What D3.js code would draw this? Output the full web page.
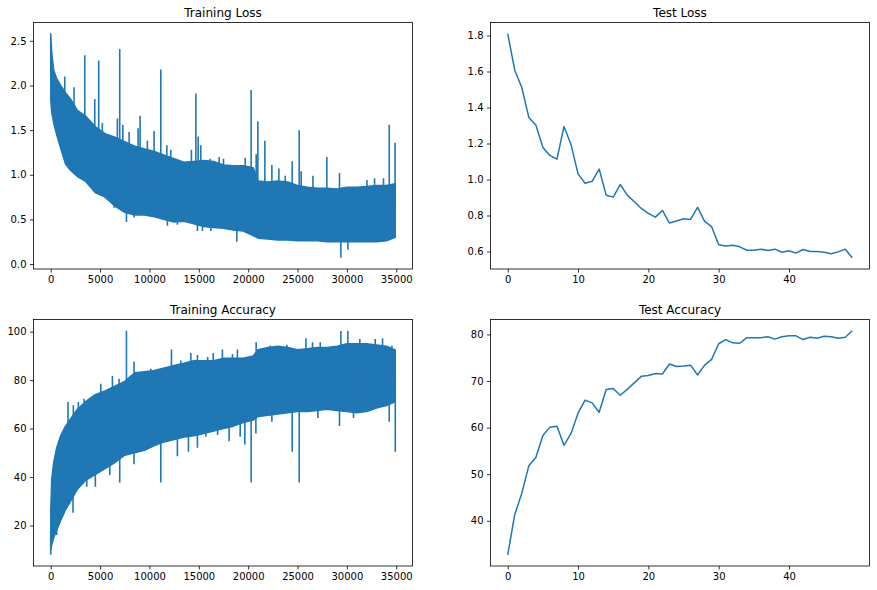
<!DOCTYPE html>
<html>
<head>
<meta charset="utf-8">
<script src="https://cdn.jsdelivr.net/npm/d3@7"></script>
<style>
  body { margin: 0; background: #fff; }
  svg { display: block; }
  text { font-family: "DejaVu Sans", sans-serif; fill: #000; }
</style>
</head>
<body>
<svg id="fig" width="877" height="590"></svg>
<script>
// epochs for the test curves
var epochs = d3.range(0, 50);

var testLoss = [1.81, 1.607, 1.511, 1.345, 1.303, 1.178, 1.134, 1.113, 1.294, 1.194,
    1.031, 0.979, 0.990, 1.058, 0.913, 0.902, 0.972, 0.913, 0.876, 0.839,
    0.812, 0.791, 0.828, 0.758, 0.769, 0.782, 0.778, 0.845, 0.767, 0.738,
    0.637, 0.631, 0.635, 0.626, 0.607, 0.607, 0.613, 0.605, 0.613, 0.596,
    0.604, 0.591, 0.611, 0.600, 0.600, 0.596, 0.587, 0.598, 0.613, 0.565];

var testAcc = [32.7, 41.35, 45.9, 51.8, 53.6, 58.3, 60.1, 60.3, 56.2, 58.75,
    63.1, 65.9, 65.3, 63.3, 68.2, 68.4, 66.95, 68.2, 69.6, 71.0,
    71.2, 71.6, 71.5, 73.65, 73.1, 73.2, 73.4, 71.3, 73.4, 74.65,
    78.0, 78.9, 78.2, 78.1, 79.3, 79.3, 79.3, 79.5, 79.0, 79.5,
    79.7, 79.7, 78.9, 79.4, 79.2, 79.6, 79.5, 79.2, 79.4, 80.8];

// training curves: the noisy band is kept as its lower/upper edge read at these steps
var steps = [0, 100, 300, 600, 1000, 1500, 2000, 2700, 3500, 4500, 5500, 6500, 7500, 8500,
    9500, 10500, 11500, 12500, 13500, 14500, 15500, 16500, 17500, 18500, 19500, 20500,
    21000, 22000, 23000, 24000, 25000, 26000, 27000, 28000, 29000, 30000, 31000, 32000,
    33000, 34000, 34900];

var lossUpper = [2.58, 2.37, 2.17, 2.08, 2.0, 1.92, 1.85, 1.72, 1.66, 1.54, 1.46, 1.42, 1.37, 1.32,
    1.29, 1.26, 1.22, 1.18, 1.14, 1.15, 1.16, 1.15, 1.11, 1.10, 1.10, 1.08,
    0.93, 0.92, 0.93, 0.92, 0.88, 0.86, 0.85, 0.85, 0.84, 0.86, 0.86, 0.87,
    0.88, 0.88, 0.90];
var lossLower = [1.84, 1.70, 1.58, 1.45, 1.30, 1.12, 1.05, 0.98, 0.93, 0.80, 0.75, 0.65, 0.58, 0.55,
    0.55, 0.53, 0.50, 0.47, 0.48, 0.45, 0.42, 0.41, 0.40, 0.38, 0.37, 0.32,
    0.29, 0.28, 0.27, 0.27, 0.26, 0.26, 0.26, 0.25, 0.25, 0.25, 0.25, 0.25,
    0.25, 0.26, 0.30];
// isolated spikes off the band [step, value]
var lossSpikes = [[1420, 2.10], [2360, 1.98], [3450, 2.34], [4460, 1.85], [4860, 2.28], [5230, 1.58],
    [6750, 1.63], [6990, 2.41], [7300, 1.56], [7940, 1.48], [8440, 1.33], [8850, 1.52], [9050, 1.66],
    [9790, 1.38], [10470, 1.49], [11150, 2.18], [11760, 1.33], [12160, 1.28], [14250, 1.28],
    [14700, 1.91], [14930, 1.43], [15200, 1.33], [16150, 1.18], [17060, 1.20], [17500, 1.18],
    [19700, 1.19], [20300, 1.95], [20810, 1.23], [20980, 1.60], [21690, 1.38], [22400, 1.11],
    [23110, 1.07], [23750, 0.99], [24460, 1.15], [25170, 1.50], [25370, 1.04], [26560, 0.99],
    [27970, 1.20], [29250, 1.02], [32030, 0.94], [32800, 0.96], [33710, 0.96], [34290, 1.56],
    [34880, 1.36],
    [6420, 0.63], [7670, 0.47], [8440, 0.52], [11820, 0.43], [12830, 0.44], [14860, 0.37],
    [15370, 0.37], [16220, 0.37], [18850, 0.25], [29390, 0.07], [30100, 0.16]];

var accUpper = [26, 39, 46, 52, 57, 61, 64, 68, 71, 74, 75.5, 77.5, 79.5, 83,
    83.5, 84, 85, 86, 87, 88, 88, 88, 89, 89, 89, 90,
    92.5, 93.5, 94, 93.5, 92.5, 93, 93.5, 93.5, 94, 95, 95, 95,
    94.5, 94, 92.5];
var accLower = [10, 12, 15, 18, 22, 26.5, 30, 35, 38.5, 41, 43.5, 46, 49, 50,
    51, 53, 54.5, 55.5, 56.5, 57, 58, 59, 60, 61, 62.5, 63.5,
    65, 65.5, 66, 66.5, 67, 67, 67.5, 68, 67.5, 67, 66.5, 67,
    68.5, 69.5, 71];
var accSpikes = [[1750, 71.0], [2290, 69.6], [2800, 71.0], [3380, 72.3], [5070, 78.5], [6250, 81.7],
    [6920, 80.6], [7670, 100.4], [8440, 87.7], [10140, 84.7], [12230, 92.6], [13180, 88.1],
    [14190, 91.2], [14860, 90.4], [15900, 89.5], [16460, 91.2], [17390, 92.6], [18410, 90.8],
    [18910, 92.6], [20810, 95.6], [22230, 94.3], [23920, 94.6], [25850, 97.3], [26520, 95.6],
    [27300, 95.6], [29390, 100.3], [30100, 100.3], [31310, 97.0], [32870, 97.0], [33610, 97.3],
    [34560, 94.3],
    [0, 7.9], [600, 16.1], [2260, 25.3], [3650, 36.0], [4520, 36.0], [5980, 40.8], [6990, 37.7],
    [8440, 45.3], [11150, 37.7], [12830, 48.6], [13950, 50.4], [14860, 52.1], [15710, 56.6],
    [16900, 57.3], [18070, 54.8], [19190, 56.6], [19660, 53.4], [20300, 37.7], [20780, 58.0],
    [22400, 62.8], [24460, 50.4], [25170, 37.7], [27060, 64.4], [29250, 61.1], [30670, 64.4],
    [34290, 62.8], [34900, 50.4]];

var blue = '#1f77b4';
var svg = d3.select('#fig');

var panels = [
    { title: 'Training Loss', left: 33.5, top: 22.5, yTicks: d3.range(0, 2.51, 0.5), yFmt: d3.format('.1f'),
      xTicks: d3.range(0, 35001, 5000), band: [lossUpper, lossLower], spikes: lossSpikes },
    { title: 'Test Loss', left: 490.5, top: 22.5, yTicks: d3.range(0.6, 1.81, 0.2), yFmt: d3.format('.1f'),
      xTicks: d3.range(0, 41, 10), line: testLoss },
    { title: 'Training Accuracy', left: 33.5, top: 319.5, yTicks: d3.range(20, 101, 20), yFmt: d3.format('d'),
      xTicks: d3.range(0, 35001, 5000), band: [accUpper, accLower], spikes: accSpikes },
    { title: 'Test Accuracy', left: 490.5, top: 319.5, yTicks: d3.range(40, 81, 10), yFmt: d3.format('d'),
      xTicks: d3.range(0, 41, 10), line: testAcc }
];

var W = 379, H = 246.5;

function pad(ext) {
    var m = (ext[1] - ext[0]) * 0.05;
    return [ext[0] - m, ext[1] + m];
}

panels.forEach(function (p, k) {
    var g = svg.append('g').attr('transform', 'translate(' + p.left + ',' + p.top + ')');
    var x, y;

    if (p.band) {
        var vals = p.band[0].concat(p.band[1], p.spikes.map(function (s) { return s[1]; }));
        x = d3.scaleLinear().domain(pad([0, 34900])).range([0, W]);
        y = d3.scaleLinear().domain(pad(d3.extent(vals))).range([H, 0]);
    } else {
        x = d3.scaleLinear().domain(pad([0, 49])).range([0, W]);
        y = d3.scaleLinear().domain(pad(d3.extent(p.line))).range([H, 0]);
    }

    var clip = 'clip' + k;
    g.append('clipPath').attr('id', clip).append('rect').attr('width', W).attr('height', H);
    var plot = g.append('g').attr('clip-path', 'url(#' + clip + ')');

    if (p.band) {
        var upper = p.band[0], lower = p.band[1];
        var area = d3.area()
            .x(function (d, i) { return x(steps[i]); })
            .y0(function (d, i) { return y(lower[i]); })
            .y1(function (d, i) { return y(upper[i]); });
        plot.append('path')
            .datum(steps)
            .attr('d', area)
            .attr('fill', blue)
            .attr('stroke', blue)
            .attr('stroke-width', 1.5)
            .attr('stroke-linejoin', 'round');

        // spikes start inside the band
        var bis = d3.bisector(function (d) { return d; }).left;
        plot.selectAll('.spike')
            .data(p.spikes)
            .enter()
            .append('line')
            .attr('class', 'spike')
            .attr('x1', function (d) { return x(d[0]); })
            .attr('x2', function (d) { return x(d[0]); })
            .attr('y1', function (d) {
                var i = Math.min(bis(steps, d[0]), steps.length - 1);
                return y((upper[i] + lower[i]) / 2);
            })
            .attr('y2', function (d) { return y(d[1]); })
            .attr('stroke', blue)
            .attr('stroke-width', 1.6);
    } else {
        var line = d3.line()
            .x(function (d, i) { return x(epochs[i]); })
            .y(function (d) { return y(d); });
        plot.append('path')
            .datum(p.line)
            .attr('d', line)
            .attr('fill', 'none')
            .attr('stroke', blue)
            .attr('stroke-width', 1.5)
            .attr('stroke-linejoin', 'round');
    }

    var xAxis = g.append('g')
        .attr('transform', 'translate(0,' + H + ')')
        .call(d3.axisBottom(x).tickValues(p.xTicks).tickSize(3.5).tickPadding(3.5).tickFormat(d3.format('d')));
    var yAxis = g.append('g')
        .call(d3.axisLeft(y).tickValues(p.yTicks).tickSize(3.5).tickPadding(3.5).tickFormat(p.yFmt));

    [xAxis, yAxis].forEach(function (a) {
        a.select('.domain').remove();
        a.selectAll('.tick line').attr('stroke', '#000').attr('stroke-width', 0.8);
        a.selectAll('.tick text').attr('font-size', 10).attr('font-family', 'DejaVu Sans, sans-serif').attr('fill', '#000');
    });

    g.append('rect')
        .attr('width', W).attr('height', H)
        .attr('fill', 'none')
        .attr('stroke', '#000')
        .attr('stroke-width', 0.8);

    g.append('text')
        .attr('x', W / 2)
        .attr('y', -6)
        .attr('text-anchor', 'middle')
        .attr('font-size', 12)
        .text(p.title);
});
</script>
</body>
</html>
